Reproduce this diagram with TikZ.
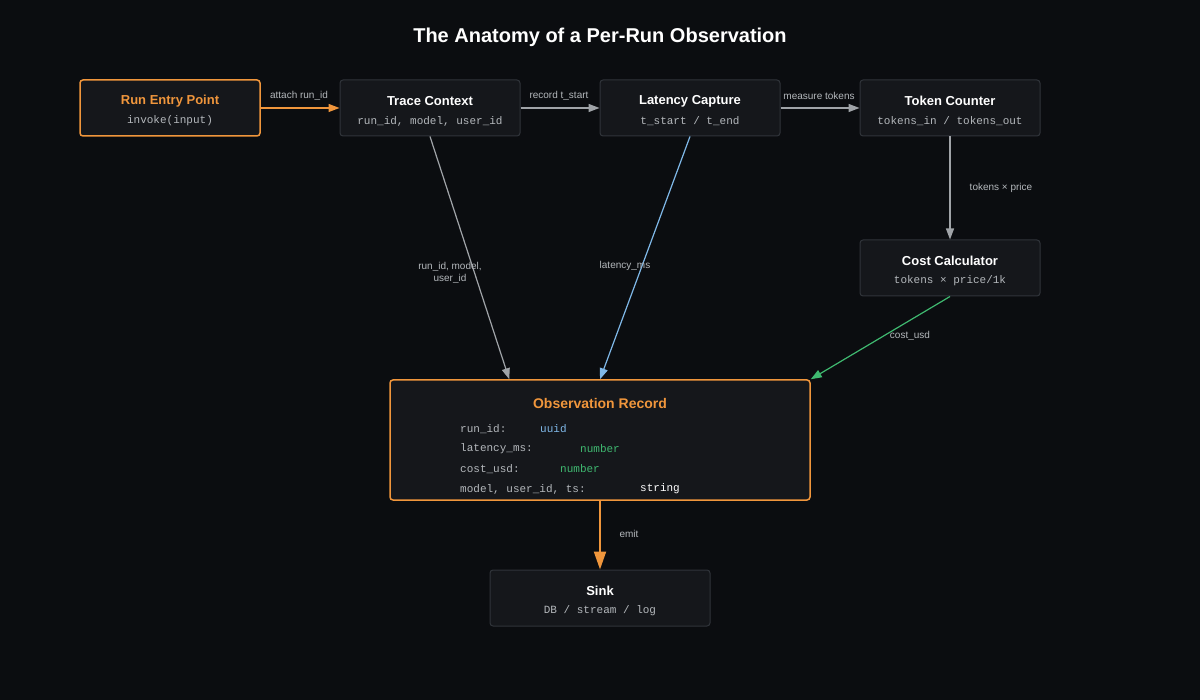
\documentclass[tikz,border=0pt]{standalone}
\usepackage{fontspec}
\setmainfont{Liberation Sans}
\newfontfamily\mymono{Liberation Mono}
\usetikzlibrary{arrows.meta,calc}
\definecolor{bg}{HTML}{0B0D10}
\definecolor{boxfill}{HTML}{15171B}
\definecolor{boxline}{HTML}{30343A}
\definecolor{orng}{HTML}{F0963C}
\definecolor{gry}{HTML}{A0A4A8}
\definecolor{txtg}{HTML}{B4B8BC}
\definecolor{blu}{HTML}{7FB8E8}
\definecolor{grn}{HTML}{3FB970}
\tikzset{
 box/.style={draw=boxline,fill=boxfill,rounded corners=3pt,line width=1pt,minimum width=180pt,minimum height=56pt,inner sep=0pt},
 hbox/.style={box,draw=orng,line width=1.5pt},
 ttl/.style={font=\fontsize{13}{15}\selectfont\bfseries,text=white},
 sub/.style={font=\fontsize{11}{13}\selectfont\mymono,text=txtg},
 lbl/.style={font=\fontsize{10}{12}\selectfont,text=txtg,align=center},
 arr/.style={draw=gry,line width=1.2pt,-{Triangle[length=11pt,width=8pt]}},
 fld/.style={font=\fontsize{11}{13}\selectfont\mymono,anchor=west,inner sep=0pt},
}
\begin{document}
\begin{tikzpicture}[x=1pt,y=-1pt]
\fill[bg] (0,0) rectangle (1200,700);
\useasboundingbox (0,0) rectangle (1200,700);
\node[font=\fontsize{20}{24}\selectfont\bfseries,text=white] (title) at (600,37) {The Anatomy of a Per-Run Observation};
\node[hbox] (run) at (170,108) {};
\node[ttl,text=orng] (runT) at (170,101) {Run Entry Point};
\node[sub] (runS) at (170,121) {invoke(input)};
\node[box] (trace) at (430,108) {};
\node[ttl] (traceT) at (430,101) {Trace Context};
\node[sub] (traceS) at (430,121) {run\_id, model, user\_id};
\node[box] (lat) at (690,108) {};
\node[ttl] (latT) at (690,101) {Latency Capture};
\node[sub] (latS) at (690,121) {t\_start / t\_end};
\node[box] (tok) at (950,108) {};
\node[ttl] (tokT) at (950,101) {Token Counter};
\node[sub] (tokS) at (950,121) {tokens\_in / tokens\_out};
\node[box] (cost) at (950,268) {};
\node[ttl] (costT) at (950,261) {Cost Calculator};
\node[sub] (costS) at (950,281) {tokens × price/1k};
\node[hbox,minimum width=420pt,minimum height=120pt] (obs) at (600,440) {};
\node[ttl,text=orng,font=\fontsize{14}{16}\selectfont\bfseries] (obsT) at (600,403) {Observation Record};
\node[fld,text=txtg] (f1) at (460,429) {run\_id:};
\node[fld,text=blu] (v1) at (540,429) {uuid};
\node[fld,text=txtg] (f2) at (460,449) {latency\_ms:};
\node[fld,text=grn] (v2) at (580,449) {number};
\node[fld,text=txtg] (f3) at (460,469) {cost\_usd:};
\node[fld,text=grn] (v3) at (560,469) {number};
\node[fld,text=txtg] (f4) at (460,489) {model, user\_id, ts:};
\node[fld,text=white] (v4) at (640,489) {string};
\node[box,minimum width=220pt] (sink) at (600,598) {};
\node[ttl] (sinkT) at (600,591) {Sink};
\node[sub] (sinkS) at (600,611) {DB / stream / log};
\draw[arr,draw=orng] (run.east) -- (trace.west);
\node[lbl] at (299,96) {attach run\_id};
\draw[arr] (trace.east) -- (lat.west);
\node[lbl] at (559,96) {record t\_start};
\draw[arr] (lat.east) -- (tok.west);
\node[lbl] at (819,96) {measure tokens};
\draw[arr] (tok.south) -- (cost.north);
\node[lbl] at (1001,188) {tokens × price};
\draw[arr] (trace.south) -- ($(obs.north west)+(120,0)$);
\node[lbl,font=\fontsize{10}{12}\selectfont] at (450,273) {run\_id, model,\\user\_id};
\draw[arr,draw=blu] (lat.south) -- (obs.north);
\node[lbl] at (625,266) {latency\_ms};
\draw[arr,draw=grn] (cost.south) -- (obs.north east);
\node[lbl] at (910,336) {cost\_usd};
\draw[arr,draw=orng,line width=2pt,-{Triangle[length=18pt,width=12pt]}] (obs.south) -- (sink.north);
\node[lbl] at (629,534) {emit};
\end{tikzpicture}
\end{document}
